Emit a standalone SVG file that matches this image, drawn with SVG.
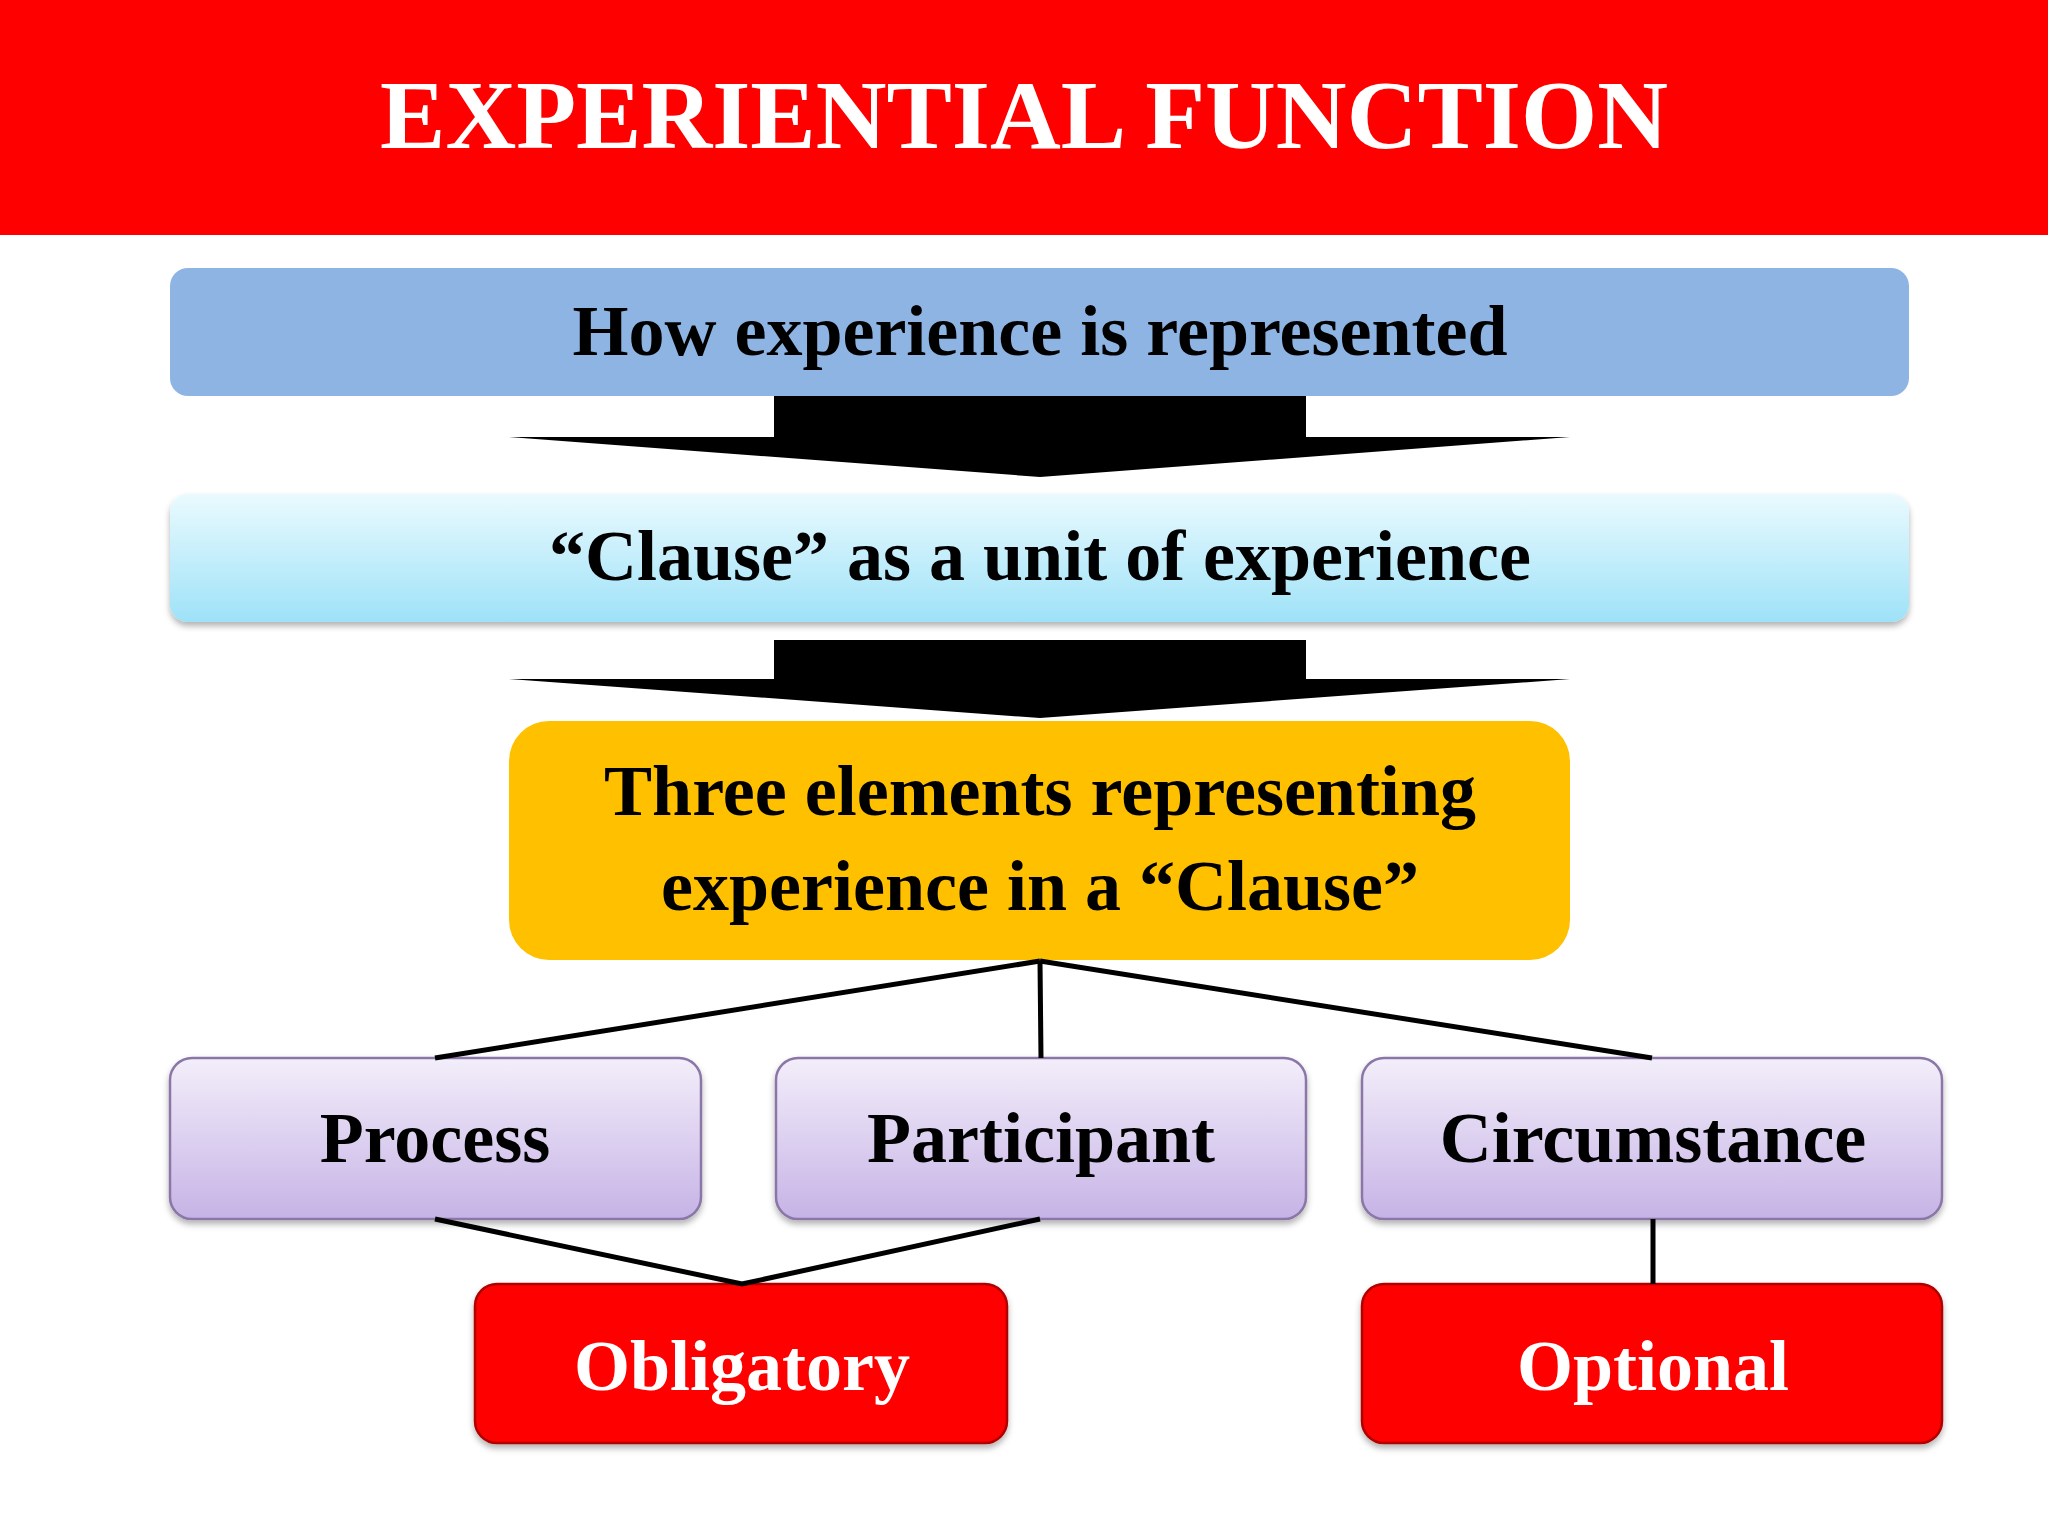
<svg xmlns="http://www.w3.org/2000/svg" width="2048" height="1536" viewBox="0 0 2048 1536">
<defs>
<linearGradient id="cy" x1="0" y1="0" x2="0" y2="1"><stop offset="0" stop-color="#EAFAFE"/><stop offset="1" stop-color="#9EE2F8"/></linearGradient>
<linearGradient id="pu" x1="0" y1="0" x2="0" y2="1"><stop offset="0" stop-color="#F3EEFA"/><stop offset="1" stop-color="#C6B3E6"/></linearGradient>
<filter id="sh" x="-5%" y="-10%" width="110%" height="130%"><feDropShadow dx="0" dy="4" stdDeviation="3" flood-color="#000" flood-opacity="0.3"/></filter>
<style>
.t{font-family:"Liberation Serif",serif;font-weight:bold;text-anchor:middle;fill:#000}
.b{font-size:72px}
.w{fill:#fff}
.pb{fill:url(#pu);stroke:#8A77A8;stroke-width:2.5;filter:url(#sh)}
.rb{fill:#FF0000;stroke:#B00000;stroke-width:2.5;filter:url(#sh)}
.ln{stroke:#000;stroke-width:5;fill:none}
</style>
</defs>
<rect width="2048" height="1536" fill="#fff"/>
<g id="header"><rect x="0" y="0" width="2048" height="235" fill="#FF0000"/>
<text class="t w" x="1024" y="148" font-size="98">EXPERIENTIAL FUNCTION</text></g>
<g id="n1"><rect x="170" y="268" width="1739" height="128" rx="18" fill="#8EB4E3"/>
<text class="t b" x="1040" y="355">How experience is represented</text></g>
<g id="n2"><rect x="170" y="494" width="1739" height="128" rx="18" fill="url(#cy)" filter="url(#sh)"/>
<text class="t b" x="1040" y="580">“Clause” as a unit of experience</text></g>
<g id="n3"><rect x="509" y="721" width="1061" height="239" rx="40" fill="#FFC000"/>
<text class="t b" x="1040" y="815">Three elements representing</text>
<text class="t b" x="1040" y="910">experience in a “Clause”</text></g>
<g id="n4"><rect class="pb" x="170" y="1058" width="531" height="161" rx="22"/><text class="t b" x="435" y="1162">Process</text></g>
<g id="n5"><rect class="pb" x="776" y="1058" width="530" height="161" rx="22"/><text class="t b" x="1041" y="1162">Participant</text></g>
<g id="n6"><rect class="pb" x="1362" y="1058" width="580" height="161" rx="22"/><text class="t b" x="1653" y="1162">Circumstance</text></g>
<g id="n7"><rect class="rb" x="475" y="1284" width="532" height="159" rx="22"/><text class="t b w" x="742" y="1390">Obligatory</text></g>
<g id="n8"><rect class="rb" x="1362" y="1284" width="580" height="159" rx="22"/><text class="t b w" x="1653" y="1390">Optional</text></g>
<g id="connectors">
<polygon points="774,396 1306,396 1306,437 1570,437 1040,477 509,437 774,437" fill="#000"/>
<polygon points="774,640 1306,640 1306,679 1570,679 1040,718 509,679 774,679" fill="#000"/>
<path class="ln" d="M1040,961 L435,1058 M1040,961 L1041,1058 M1040,961 L1652,1058"/>
<path class="ln" d="M435,1219 L742,1284 L1040,1219 M1653,1219 L1653,1284"/>
</g>
</svg>
